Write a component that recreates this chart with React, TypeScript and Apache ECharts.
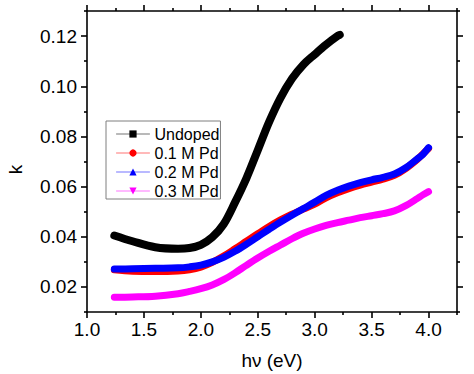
import React, { useEffect, useRef } from "react";
import * as echarts from "echarts";

// ---- data ----
const seriesNames = ["Undoped", "0.1 M Pd", "0.2 M Pd", "0.3 M Pd"];
const seriesColors = ["#000000", "#ff0000", "#0000ff", "#ff00ff"];

const hvUndoped = [1.24, 1.4, 1.6, 1.8, 1.9, 2.0, 2.1, 2.2, 2.3, 2.4, 2.5, 2.6, 2.7, 2.8, 2.9, 3.0, 3.1, 3.2, 3.22];
const kUndoped = [0.0405, 0.0382, 0.0358, 0.0352, 0.0355, 0.0368, 0.0398, 0.045, 0.0537, 0.0633, 0.0745, 0.0858, 0.0954, 0.1030, 0.1086, 0.1127, 0.1166, 0.12, 0.1205];

const hvDoped = [1.24, 1.4, 1.6, 1.8, 1.9, 2.0, 2.1, 2.2, 2.3, 2.4, 2.5, 2.6, 2.7, 2.8, 2.9, 3.0, 3.1, 3.2, 3.3, 3.4, 3.5, 3.6, 3.7, 3.8, 3.9, 3.95, 4.0];
const k01 = [0.0268, 0.0262, 0.0261, 0.0263, 0.0268, 0.0279, 0.0298, 0.0323, 0.0352, 0.0382, 0.0412, 0.0441, 0.0467, 0.049, 0.051, 0.053, 0.0555, 0.0575, 0.0592, 0.0606, 0.0618, 0.063, 0.0645, 0.0672, 0.0708, 0.073, 0.0752];
const k02 = [0.0271, 0.0272, 0.0274, 0.0276, 0.028, 0.0287, 0.03, 0.0318, 0.0342, 0.037, 0.04, 0.043, 0.0459, 0.0486, 0.0512, 0.0538, 0.0565, 0.0585, 0.0602, 0.0616, 0.0627, 0.0637, 0.065, 0.0675, 0.071, 0.0728, 0.0755];
const k03 = [0.0159, 0.016, 0.0163, 0.0173, 0.0182, 0.0193, 0.0208, 0.0229, 0.0256, 0.0286, 0.0315, 0.0342, 0.0367, 0.0392, 0.0414, 0.0431, 0.0445, 0.0456, 0.0466, 0.0476, 0.0484, 0.0492, 0.0503, 0.0524, 0.0552, 0.0567, 0.058];

const xMajorTicks = [1.0, 1.5, 2.0, 2.5, 3.0, 3.5, 4.0];
const xMinorTicks = [1.25, 1.75, 2.25, 2.75, 3.25, 3.75, 4.25];
const yMajorTicks = [0.02, 0.04, 0.06, 0.08, 0.1, 0.12];
const yMinorTicks = [0.01, 0.03, 0.05, 0.07, 0.09, 0.11, 0.13];
const X_MIN = 1.0;
const X_MAX = 4.25;
const Y_MIN = 0.01;
const Y_MAX = 0.13;

const FONT = "'Liberation Sans', Arial, Helvetica, sans-serif";

function pairs(xs: number[], ys: number[]) {
  return xs.map((x, i) => [x, ys[i]]);
}

export default function App() {
  const ref = useRef<HTMLDivElement>(null);

  useEffect(() => {
    if (!ref.current) return;
    const chart = echarts.init(ref.current, undefined, { renderer: "svg" });

    const line = { color: "#000", width: 1.6 };
    const gridBox = { left: 87, right: 17, top: 11, bottom: 62 };

    const xAx = (gridIndex: number, position: string, ticks: number[], len: number, extra: any = {}) => ({
      type: "value",
      gridIndex,
      position,
      min: X_MIN,
      max: X_MAX,
      axisLine: { show: gridIndex === 0, onZero: false, lineStyle: line },
      axisTick: { show: true, inside: false, length: len, customValues: ticks, lineStyle: line },
      axisLabel: { show: false },
      splitLine: { show: false },
      ...extra,
    });
    const yAx = (gridIndex: number, position: string, ticks: number[], len: number, extra: any = {}) => ({
      type: "value",
      gridIndex,
      position,
      min: Y_MIN,
      max: Y_MAX,
      axisLine: { show: gridIndex === 0, onZero: false, lineStyle: line },
      axisTick: { show: true, inside: false, length: len, customValues: ticks, lineStyle: line },
      axisLabel: { show: false },
      splitLine: { show: false },
      ...extra,
    });

    const ys = [kUndoped, k01, k02, k03];
    const xs = [hvUndoped, hvDoped, hvDoped, hvDoped];
    const symbols = ["rect", "circle", "triangle", "path://M0,0 L10,0 L5,9 Z"];
    const widths = [8, 7, 7, 7];

    chart.setOption({
      animation: false,
      backgroundColor: "#ffffff",
      grid: [
        { ...gridBox, outerBoundsMode: "none" },
        { ...gridBox, outerBoundsMode: "none" },
      ],
      xAxis: [
        xAx(0, "bottom", xMajorTicks, 6, {
          axisLabel: {
            show: true,
            customValues: xMajorTicks,
            formatter: (v: number) => v.toFixed(1),
            fontSize: 19,
            fontFamily: FONT,
            color: "#000",
            margin: 8,
          },
          name: "hν (eV)",
          nameLocation: "middle",
          nameGap: 39,
          nameTextStyle: { fontSize: 19, fontFamily: FONT, color: "#000" },
        }),
        xAx(0, "top", xMajorTicks, 6),
        xAx(1, "bottom", xMinorTicks, 3),
        xAx(1, "top", xMinorTicks, 3),
      ],
      yAxis: [
        yAx(0, "left", yMajorTicks, 6, {
          axisLabel: {
            show: true,
            customValues: yMajorTicks,
            formatter: (v: number) => v.toFixed(2),
            fontSize: 19,
            fontFamily: FONT,
            color: "#000",
            margin: 10,
          },
          name: "k",
          nameLocation: "middle",
          nameGap: 62,
          nameTextStyle: { fontSize: 19, fontFamily: FONT, color: "#000", padding: [0, 16, 0, 0] },
        }),
        yAx(0, "right", yMajorTicks, 6),
        yAx(1, "left", yMinorTicks, 3),
        yAx(1, "right", yMinorTicks, 3),
      ],
      legend: {
        data: seriesNames,
        orient: "vertical",
        left: 106,
        top: 121,
        itemWidth: 33,
        itemHeight: 9,
        itemGap: 3,
        padding: [5, 1, 0, 10],
        borderColor: "#7f7f7f",
        borderWidth: 1,
        backgroundColor: "#ffffff",
        selectedMode: false,
        lineStyle: { width: 1, opacity: 0.55 },
        textStyle: { fontSize: 16, fontFamily: FONT, color: "#000" },
      },
      series: seriesNames.map((name, i) => ({
        name,
        type: "line",
        xAxisIndex: 0,
        yAxisIndex: 0,
        data: pairs(xs[i], ys[i]),
        smooth: 0.35,
        showSymbol: false,
        symbol: symbols[i],
        symbolSize: 7,
        itemStyle: { color: seriesColors[i] },
        lineStyle: { color: seriesColors[i], width: widths[i], cap: "round", join: "round" },
        emphasis: { disabled: true },
        silent: true,
      })),
    });

    return () => chart.dispose();
  }, []);

  return (
    <div
      ref={ref}
      style={{ position: "fixed", left: 0, top: 0, width: 474, height: 374, background: "#fff" }}
    />
  );
}
